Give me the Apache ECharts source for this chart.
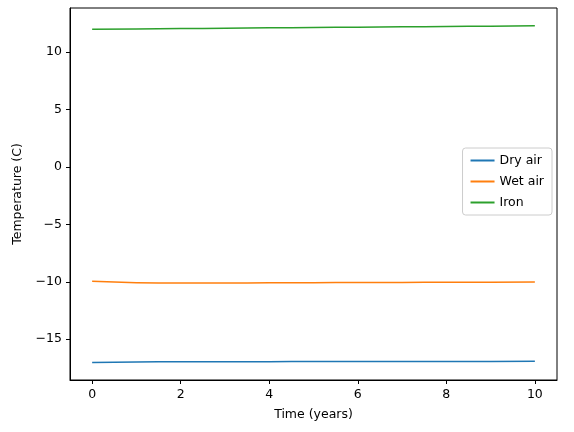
<!DOCTYPE html>
<html><head><meta charset="utf-8">
<script src="https://cdn.jsdelivr.net/npm/echarts@6/dist/echarts.min.js"></script>
<style>html,body{margin:0;padding:0;background:#fff}#c{width:574px;height:432px}</style>
</head><body><div id="c"></div>
<script>
var years = [0, 1, 2, 3, 4, 5, 6, 7, 8, 9, 10];
var dryAir = [-17.03, -16.98, -16.96, -16.95, -16.95, -16.94, -16.94, -16.93, -16.93, -16.93, -16.92];
var wetAir = [-9.95, -10.07, -10.1, -10.1, -10.09, -10.07, -10.06, -10.05, -10.04, -10.03, -10.02];
var iron = [12.0, 12.03, 12.06, 12.09, 12.12, 12.15, 12.18, 12.21, 12.24, 12.27, 12.3];
var xTicks = [0, 2, 4, 6, 8, 10];
var yTicks = [-15, -10, -5, 0, 5, 10];

function pairs(v) { return years.map(function (t, i) { return [t, v[i]]; }); }
var font = 'DejaVu Sans';
var axisCommon = {
    axisLine: { show: true, onZero: false, lineStyle: { color: '#000' } },
    axisTick: { show: true, length: 4, lineStyle: { color: '#000' } },
    axisLabel: { color: '#000', fontSize: 12.5, fontFamily: font, formatter: function (v) { return String(v).replace('-', '\u2212'); } },
    splitLine: { show: false },
    nameLocation: 'middle',
    nameTextStyle: { color: '#000', fontSize: 12.5, fontFamily: font }
};
var myChart = echarts.init(document.getElementById('c'));
myChart.setOption({
    animation: false,
    grid: { left: 70, right: 17, top: 8, bottom: 52, show: true, borderColor: '#000', borderWidth: 1 },
    legend: {
        orient: 'vertical', right: 22, top: 148,
        backgroundColor: '#fff', borderColor: '#ccc', borderWidth: 1, borderRadius: 3,
        padding: [6, 8], itemGap: 8, itemWidth: 24, itemHeight: 2,
        icon: 'rect',
        textStyle: { color: '#000', fontSize: 12.5, fontFamily: font },
        data: ['Dry air', 'Wet air', 'Iron']
    },
    xAxis: Object.assign({}, axisCommon, {
        type: 'value', min: -0.5, max: 10.5, name: 'Time (years)', nameGap: 28,
        axisTick: Object.assign({}, axisCommon.axisTick, { customValues: xTicks }),
        axisLabel: Object.assign({}, axisCommon.axisLabel, { customValues: xTicks })
    }),
    yAxis: Object.assign({}, axisCommon, {
        type: 'value', min: -18.55, max: 13.85, name: 'Temperature (C)', nameGap: 44,
        axisTick: Object.assign({}, axisCommon.axisTick, { customValues: yTicks }),
        axisLabel: Object.assign({}, axisCommon.axisLabel, { customValues: yTicks })
    }),
    series: [
        { name: 'Dry air', type: 'line', data: pairs(dryAir), smooth: true, showSymbol: false, lineStyle: { width: 1.5, color: '#1f77b4' }, itemStyle: { color: '#1f77b4' } },
        { name: 'Wet air', type: 'line', data: pairs(wetAir), smooth: true, showSymbol: false, lineStyle: { width: 1.5, color: '#ff7f0e' }, itemStyle: { color: '#ff7f0e' } },
        { name: 'Iron', type: 'line', data: pairs(iron), smooth: true, showSymbol: false, lineStyle: { width: 1.5, color: '#2ca02c' }, itemStyle: { color: '#2ca02c' } }
    ]
});
</script></body></html>
